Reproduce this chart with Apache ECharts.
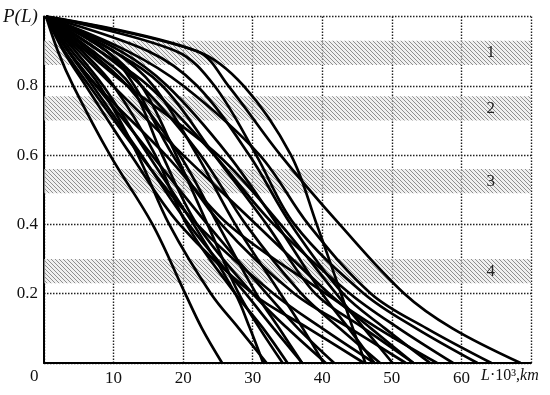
<!DOCTYPE html>
<html><head><meta charset="utf-8">
<script src="https://cdn.jsdelivr.net/npm/echarts@6/dist/echarts.min.js"></script>
<style>html,body{margin:0;padding:0;background:#fff}#c{width:550px;height:395px}</style>
</head><body><div id="c"></div>
<script>
// Probability levels at which each curve's mileage L (x10^3 km) was read
const pLevels = [1, 0.9, 0.8, 0.6, 0.4, 0.2, 0.1, 0];
// L values for each curve at the levels above
const curve1  = [0.3, 2.0, 4.2, 9.5, 15.6, 20.3, 22.7, 25.6];
const curve2  = [0.3, 4.5, 8.5, 15.0, 21.5, 27.5, 29.6, 31.5];
const curve3  = [0.3, 9.0, 14.0, 19.0, 23.5, 28.0, 31.0, 34.3];
const curve4  = [0.3, 6.5, 12.0, 19.5, 25.0, 30.5, 33.8, 37.1];
const curve5  = [0.3, 10.0, 15.7, 22.0, 27.5, 34.0, 37.2, 40.2];
const curve6  = [0.3, 22.0, 28.7, 35.5, 39.2, 42.7, 44.4, 46.2];
const curve7  = [0.3, 3.5, 7.5, 15.5, 23.5, 32.0, 36.5, 41.7];
const curve8  = [0.3, 11.0, 17.7, 26.5, 33.5, 40.0, 43.8, 47.5];
const curve9  = [0.3, 8.0, 14.0, 22.5, 29.0, 37.0, 42.5, 48.3];
const curve10 = [0.3, 6.0, 12.0, 25.0, 34.0, 42.0, 46.0, 50.1];
const curve11 = [0.3, 5.0, 9.9, 20.0, 30.5, 41.0, 47.0, 53.1];
const curve12 = [0.3, 15.0, 22.0, 29.5, 35.5, 43.0, 49.0, 55.5];
const curve13 = [0.3, 3.5, 7.6, 17.5, 26.5, 40.5, 48.0, 56.5];
const curve14 = [0.3, 8.0, 15.0, 24.5, 33.0, 44.0, 51.0, 58.8];
const curve15 = [0.3, 19.0, 24.5, 30.5, 36.0, 46.0, 53.5, 62.3];
const curve16 = [0.3, 12.0, 20.0, 31.0, 38.0, 47.0, 55.0, 64.3];
const curve17 = [0.3, 22.0, 26.5, 34.0, 42.5, 51.8, 58.7, 68.5];
const curve18 = [0.3, 3.5, 7.0, 14.0, 20.8, 29.0, 33.0, 37.1];
const curve19 = [0.3, 3.0, 6.5, 13.8, 22.0, 33.0, 40.0, 47.5];
const curve20 = [0.3, 10.0, 17.0, 24.5, 32.0, 39.0, 46.0, 53.1];
const curve21 = [0.3, 4.0, 8.0, 13.5, 18.0, 24.0, 28.0, 32.0];
const curve22 = [0.3, 5.5, 10.0, 16.0, 20.5, 27.5, 31.5, 35.0];
const curve23 = [0.3, 7.0, 12.5, 17.0, 22.0, 30.0, 35.0, 40.5];
const curve24 = [0.3, 2.8, 6.0, 12.5, 19.5, 30.0, 38.0, 46.0];
const curve25 = [0.3, 9.0, 13.0, 18.5, 25.5, 36.0, 44.0, 52.0];
const curves = [curve1,curve2,curve3,curve4,curve5,curve6,curve7,curve8,curve9,curve10,
                curve11,curve12,curve13,curve14,curve15,curve16,curve17,curve18,curve19,curve20,
                curve21,curve22,curve23,curve24,curve25];
// Hatched zones: lower P, upper P, label
const bandLow  = [0.86, 0.70, 0.49, 0.23];
const bandHigh = [0.93, 0.77, 0.56, 0.30];
const bandNames = ['1', '2', '3', '4'];
const xTicks = [0, 10, 20, 30, 40, 50, 60, 70];

function hatch() {
  const c = document.createElement('canvas');
  c.width = 4; c.height = 4;
  const g = c.getContext('2d');
  g.fillStyle = 'rgba(228,228,228,0.55)';
  g.fillRect(0, 0, 4, 4);
  g.strokeStyle = 'rgba(105,105,105,0.72)';
  g.lineWidth = 1;
  g.beginPath();
  g.moveTo(0, 0); g.lineTo(4, 4);
  g.moveTo(-2, 2); g.lineTo(2, 6);
  g.moveTo(2, -2); g.lineTo(6, 2);
  g.stroke();
  return c;
}

const chart = echarts.init(document.getElementById('c'), null, {renderer: 'canvas'});
const serif = 'Liberation Serif, Times New Roman, serif';
const gridLine = {show: true, lineStyle: {color: '#222', width: 1.4, type: [1.5, 1.5]}};

const series = curves.map((arr, i) => ({
  name: 'c' + (i + 1),
  type: 'line',
  data: arr.map((L, k) => [L, pLevels[k]]),
  smooth: 0.35,
  symbol: 'none',
  z: 2,
  lineStyle: {color: '#000', width: 2.7},
  silent: true
}));

const pattern = {image: hatch(), repeat: 'repeat'};
series.push({
  type: 'line',
  data: [],
  z: 5,
  silent: true,
  markArea: {
    silent: true,
    itemStyle: {color: pattern},
    label: {show: true, position: 'insideRight', distance: 36, color: '#222',
            fontSize: 17, fontFamily: serif},
    data: bandLow.map((lo, i) => [
      {name: bandNames[i], xAxis: xTicks[0], yAxis: lo},
      {xAxis: xTicks[xTicks.length - 1], yAxis: bandHigh[i]}
    ])
  }
});

chart.setOption({
  animation: false,
  backgroundColor: '#fff',
  grid: {left: 44, right: 19, top: 16.5, bottom: 32, containLabel: false},
  xAxis: {
    type: 'value', min: 0, max: 70, interval: 10,
    axisLine: {show: true, onZero: false, lineStyle: {color: '#000', width: 2}},
    axisTick: {show: false},
    splitLine: gridLine,
    axisLabel: {
      color: '#111', fontSize: 17, fontFamily: serif, margin: 7,
      formatter: v => (v === 0 || v === 70) ? '' : String(v)
    }
  },
  yAxis: {
    type: 'value', min: 0, max: 1, interval: 0.2,
    axisLine: {show: true, onZero: false, lineStyle: {color: '#000', width: 2}},
    axisTick: {show: false},
    splitLine: gridLine,
    axisLabel: {
      color: '#111', fontSize: 17, fontFamily: serif, margin: 6,
      formatter: v => (v === 0 || v === 1) ? '' : v.toFixed(1)
    }
  },
  graphic: [
    {type: 'text', left: 30, top: 368,
     style: {text: '0', font: '17px ' + serif, fill: '#111'}},
    {type: 'text', left: 3, top: 7,
     style: {text: 'P(L)', font: 'italic 19px ' + serif, fill: '#111'}},
    {type: 'text', left: 481, top: 368,
     style: {
       text: '{i|L}{n|·10³,}{i|km}',
       rich: {
         i: {font: 'italic 16px ' + serif, fill: '#111'},
         n: {font: '16px ' + serif, fill: '#111'}
       }
     }}
  ],
  series: series
});
</script></body></html>
